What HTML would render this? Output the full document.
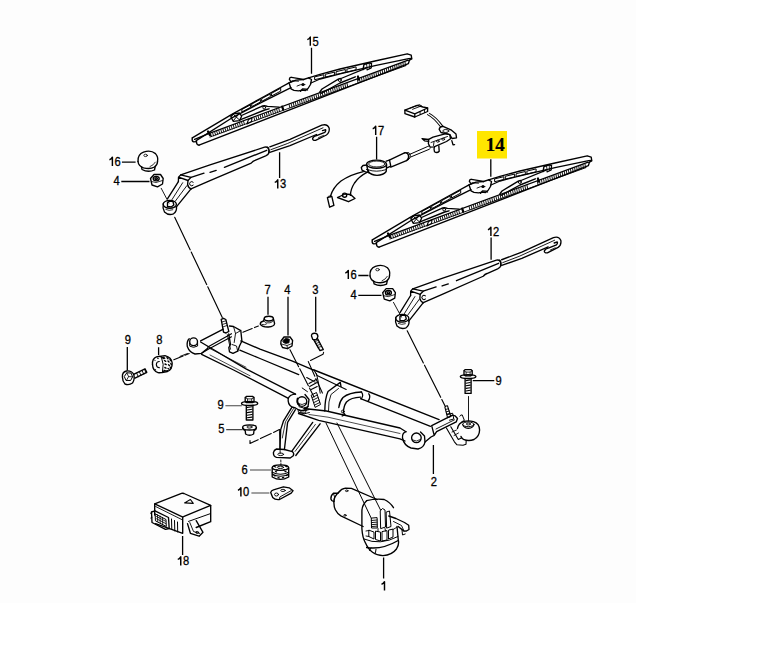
<!DOCTYPE html>
<html><head><meta charset="utf-8"><style>
html,body{margin:0;padding:0;background:#fff;}
body{width:776px;height:667px;overflow:hidden;font-family:"Liberation Sans",sans-serif;}
svg{display:block;}
</style></head><body>
<svg width="776" height="667" viewBox="0 0 776 667"><rect x="0" y="0" width="636" height="603" fill="#fdfdfd"/><defs><g id="blade" fill="none" stroke="#000" stroke-width="1.35" stroke-linejoin="round" stroke-linecap="round"><polyline points="192.3,137.9 231.4,114.6 265,96.0 289,82.8"/><polyline points="196.2,140.6 231.4,118.2 265,100.6 291,87.6"/><path stroke-width="1.0" d="M242.2,109.3L250.6,104.8L250.6,107.3L242.2,111.8ZM252.1,103.9L260.4,99.3L260.4,102.0L252.1,106.5ZM262.0,98.5L270.3,93.9L270.3,96.7L262.0,101.2ZM271.9,93.1L280.7,88.2L280.7,91.1L271.9,95.8Z"/><path d="M289,82.8 L291,82 L296,80.2 L303.5,79.5 L308.5,77.8 L311.5,79.5 L310.5,84.5 L308,88.5 L305.5,90.5 L302.5,90.2 L298.5,90.9 L294,90.3 L291,88.8 Z"/><path d="M291,82 L289.3,79.2 Q289.5,77.2 291.5,77.3 L299,78.6 L303.5,79.5"/><path d="M292,80.8 L298.5,81.2" stroke-width="0.9"/><path d="M300.5,91.3 L302.5,89 L306,89.2 L307.5,90"/><path d="M297,86 Q300,84 305,84.5" stroke-width="0.9"/><circle cx="303" cy="84.5" r="0.9"/><polyline points="308.5,77.8 320,74.3 340,69.0 375,61.0 407.2,53.8 411.2,55.2 411.8,58.8 409.4,60.2 407.5,60.3"/><polyline points="311,83 320,79.0 340,73.8 375,65.6 408.6,58.6 411.5,58.3"/><path stroke-width="1.0" d="M315.0,76.8L323.8,74.7L323.8,77.5L315.0,79.6ZM325.7,74.2L334.6,72.1L334.6,74.9L325.7,77.0ZM336.5,71.6L345.3,69.5L345.3,72.3L336.5,74.4ZM347.3,69.0L356.1,66.9L356.1,69.8L347.3,71.9Z"/><path d="M192.3,137.9 Q191.6,141.2 193.6,141.9 L196.6,141.6"/><path d="M196.4,141.7 Q196.6,145 199.0,145.2"/><polyline points="194.6,139.4 208.6,133.6 407.5,60.3"/><polyline points="199.0,145.2 408.4,63.6 409.4,60.2"/><path stroke-width="0.9" d="M210,137 L406,65.6"/><path stroke-width="2.2" d="M208,131.5 L210,135.2"/><path stroke-width="0.9" d="M210.5,133.6L211.5,136.6M212.6,132.9L213.6,135.9M214.7,132.1L215.7,135.1M216.7,131.3L217.7,134.3M218.8,130.6L219.8,133.6M220.9,129.8L221.8,132.8M222.9,129.0L223.9,132.1M225.0,128.3L226.0,131.3M227.1,127.5L228.0,130.6M229.2,126.8L230.1,129.8M231.2,126.0L232.2,129.0M233.3,125.2L234.2,128.3M235.4,124.5L236.3,127.5M237.4,123.7L238.4,126.8M239.5,122.9L240.4,126.0M241.6,122.2L242.5,125.3M243.6,121.4L244.5,124.5M254.0,117.6L254.9,120.7M256.0,116.8L256.9,119.9M258.1,116.1L259.0,119.2M260.2,115.3L261.0,118.4M262.2,114.5L263.1,117.7M264.3,113.8L265.2,116.9M266.4,113.0L267.2,116.2M268.4,112.2L269.3,115.4M270.5,111.5L271.4,114.6M272.6,110.7L273.4,113.9M274.7,110.0L275.5,113.1M276.7,109.2L277.6,112.4M278.8,108.4L279.6,111.6M289.1,104.6L289.9,107.8M291.2,103.9L292.0,107.1M293.3,103.1L294.1,106.3M295.3,102.3L296.1,105.5M297.4,101.6L298.2,104.8M299.5,100.8L300.2,104.0M301.5,100.0L302.3,103.3M303.6,99.3L304.4,102.5M305.7,98.5L306.4,101.8M307.8,97.8L308.5,101.0M309.8,97.0L310.6,100.2M311.9,96.2L312.6,99.5M314.0,95.5L314.7,98.7M316.0,94.7L316.8,98.0M318.1,93.9L318.8,97.2M320.2,93.2L320.9,96.5M322.2,92.4L322.9,95.7M324.3,91.6L325.0,94.9M326.4,90.9L327.1,94.2M328.4,90.1L329.1,93.4M330.5,89.4L331.2,92.7M332.6,88.6L333.3,91.9M334.6,87.8L335.3,91.1M336.7,87.1L337.4,90.4M338.8,86.3L339.4,89.6M340.8,85.5L341.5,88.9M342.9,84.8L343.6,88.1M345.0,84.0L345.6,87.4M347.0,83.2L347.7,86.6M357.4,79.4L358.0,82.8M359.5,78.7L360.1,82.1M361.5,77.9L362.1,81.3M363.6,77.1L364.2,80.5M365.7,76.4L366.3,79.8M367.7,75.6L368.3,79.0M369.8,74.9L370.4,78.3M371.9,74.1L372.5,77.5M373.9,73.3L374.5,76.7M376.0,72.6L376.6,76.0M378.1,71.8L378.6,75.2M380.1,71.0L380.7,74.5M382.2,70.3L382.8,73.7M384.3,69.5L384.8,73.0M386.4,68.8L386.9,72.2M388.4,68.0L389.0,71.4M390.5,67.2L391.0,70.7M392.6,66.5L393.1,69.9M394.6,65.7L395.2,69.2M396.7,64.9L397.2,68.4M398.8,64.2L399.3,67.7M400.8,63.4L401.3,66.9M402.9,62.6L403.4,66.1M405.0,61.9L405.5,65.4"/><path d="M230.8,116.8 L233.5,113.8 L239.5,113 L241.6,116.2 L239.6,120.6 L233.2,121.3 Z"/><path d="M233.5,114.5 L239.5,120 M239,113.8 L233.5,120.5" stroke-width="1"/><path d="M241.5,115.5 L261.1,106.6 Q264,104.9 267.4,106.4 L279.1,107.1"/><path d="M240,119.8 L264.7,110 L269,108.8"/><path d="M246.9,124 L248.5,119.5 L252,118 L251.5,121.5 Z" stroke-width="1.1"/><circle cx="264.2" cy="107.6" r="1.4" stroke-width="1"/><path stroke-width="2.2" d="M282.2,106.6 L283.2,109.6"/><path d="M319.7,92.2 L322,89 L338.3,79.1 L341,78.5 L366.1,68.2"/><path d="M321,93.5 L340,83 L355.3,76.8"/><circle cx="339.8" cy="80" r="1.5" stroke-width="1"/><path d="M363,69.5 L364,64.5 L369.5,62.8 L371.5,63.5 L371.2,68 L367,69.8"/><path d="M366.5,64 L367.2,69.2 M369.2,63.2 L369.6,68.6" stroke-width="0.8"/><path stroke-width="2.2" d="M357.9,76.5 L358.9,79.7"/></g><g id="arm" fill="none" stroke="#000" stroke-width="1.35" stroke-linejoin="round" stroke-linecap="round"><path d="M163.3,203.5 Q162.3,208 164.5,212 Q168.5,215.8 173.5,213.8 Q177,211.5 176.5,206.5"/><ellipse cx="169.8" cy="204.3" rx="6.6" ry="3.9"/><path d="M167.5,206.5 L167.5,202.5 L170,201 L173,201.5 L173.8,205 L171.5,206.8 Z"/><path d="M165.8,209.5 Q169,211.2 172.8,209.8" stroke-width="0.8"/><line x1="167.6" y1="198.6" x2="178.4" y2="181.6"/><line x1="176.2" y1="207.2" x2="191" y2="188.9"/><line x1="172" y1="199.6" x2="182.7" y2="182.7" stroke-width="0.9"/><line x1="175.2" y1="201.3" x2="186.9" y2="185.6" stroke-width="0.9"/><path d="M178.4,181.6 L178.5,177.2 L180.7,174.9 L191,177.4 L188,180.5 L178.5,177.2"/><path d="M188,180.5 L187.6,184.5 Q188.5,188.3 191.2,188.9"/><path d="M193.2,182.2 A2.1,2.1 0 1 0 193.2,185.2" stroke-width="1"/><path d="M180.7,174.9 L210,164.9 L264.6,147.2 Q266.5,146.6 267.9,147.6"/><path d="M191,177.4 L204,173.2"/><path d="M210,172.4 L216.2,170.4 M224.4,167.3 L266.7,150.3"/><path d="M191,188.9 L210,180.7 L251.2,163.1 Q253,161 255,160.4 L265.7,155.9 Q268.5,154.5 268.8,152.8"/><path d="M267.8,147.4 Q269.8,149.8 268.8,152.8" stroke-width="1.6"/><path d="M269.8,146.8 L290,139.4 L321.8,125.2 Q327.5,123.6 329.2,128.2 Q329.8,132.8 326.4,135 L315.6,140.4 Q312.3,140.6 312.6,138.4 Q313.4,136.3 317.2,135.4 L324.8,132.4 Q326.2,131 325.6,129.6 L322.5,130.6"/><path d="M269.8,152.4 L290,145.6 L316.5,134.5"/><path d="M270.8,149.7 L287.3,143.6 L323,127.8" stroke-width="0.9"/><path d="M318.5,137.6 L323.5,135.4" stroke-width="0.8"/><path d="M138,161.5 Q137.5,154.5 143.5,152.2 Q150.5,149.6 155.5,153.6 Q158.6,157 157.5,161.5"/><path d="M138,161.5 Q138.5,166 143.5,167.8 Q150,169.5 154.5,167 Q157.6,164.8 157.5,161.5"/><path d="M141.5,166.8 L142,169.5 Q148,172.8 154.5,170 L155.2,166.5"/><ellipse cx="145.6" cy="155.4" rx="1.8" ry="1.2" stroke-width="0.8"/><path d="M150,166.6 Q153.5,165.3 155.3,162.2" stroke-width="0.8"/><path d="M150.5,178.5 L154,174.5 L160.5,174.5 L163.2,178.5 L162.5,184 L157.5,186.8 L152,185 Z"/><ellipse cx="156.2" cy="178.6" rx="3" ry="2.2"/><ellipse cx="156.2" cy="178.6" rx="1.3" ry="0.9"/><path d="M151.5,181.5 L156,182.5 L162.5,180.5" stroke-width="0.8"/><path d="M161.2,188.3 L169,203.1" stroke-width="0.9"/></g></defs><use href="#blade"/><use href="#blade" transform="translate(180,102)"/><use href="#arm"/><use href="#arm" transform="translate(232.5,114) rotate(-0.6 169.6 208.3)"/><g fill="none" stroke="#000" stroke-width="1.35" stroke-linejoin="round" stroke-linecap="round"><ellipse cx="376.6" cy="164.2" rx="10" ry="4.1"/><ellipse cx="376.8" cy="164" rx="8.2" ry="2.9" stroke-width="0.8"/><path d="M366.8,165.5 L368,171.5 Q371,175.2 377,175.3 Q383.5,175 386.2,171.5 L386.6,165"/><path d="M368.2,169.8 Q376,172.8 386.3,169.6" stroke-width="0.9"/><path d="M366.8,165 L363,165.5 L361.3,167.5 L362,170.2 L365.5,171.8 L368.8,172.2"/><path d="M366.5,169.5 L368.5,170 L368.6,173" stroke-width="1"/><path d="M386.2,161.2 L389.5,160.2 L390.8,166.2 L387,167.8"/><path d="M389.3,160.1 L404.5,152.9 M390.8,167.2 L406.5,160.6"/><path d="M404.5,152.9 Q407.8,152.2 408.6,155.8 Q409,159.5 406.5,160.6"/><path d="M406.8,152.8 Q409.8,151.8 410.3,155.2 Q410.6,158.5 408.3,159.8" stroke-width="1"/><path d="M409.6,154.4 L427.2,146.7 L429.3,145.8 M410.7,157 L429.2,149.3 L430.2,148.4" stroke-width="1"/><path d="M428.7,139.3 L433,137.2 L446,133.6 L449.8,134.6 L450.5,138.8 L446.5,141.5 L434,146.8 L430.2,147.2 L428.4,143.8 Z"/><path d="M431,142.5 L447.5,136.5 M433.5,145.5 L434,142" stroke-width="0.9"/><ellipse cx="437.8" cy="141.2" rx="1.4" ry="1" stroke-width="0.9"/><ellipse cx="443.2" cy="139.2" rx="1.4" ry="1" stroke-width="0.9"/><path d="M428.7,139.5 L422,138.6 L424.5,140.8 L428.6,141.4"/><path d="M434.5,146.8 Q433.4,149.5 434.5,151.8 Q437.2,153.5 439.2,151.2 L438.8,145.8"/><path d="M451.8,140.6 L453,144.8 L454.6,144.6" stroke-width="1.3"/><path d="M439.2,129.3 Q439.5,126.5 443,126.3 L451.5,130.2 L456,134 L456.5,137.8 L452,138.5 L449.8,134.6 L441,132.5 Z"/><ellipse cx="445.8" cy="131" rx="3" ry="1.5" stroke-width="0.9"/><path d="M427.5,114.6 Q434,118 440.5,126.8 M429.4,113.4 Q436.2,117 443,126.4" stroke-width="1.05"/><path d="M404.9,110.1 L417.1,105.4 L423,107 L427.6,108 L427.6,111.5 L414.8,117 L404.9,113.6 Z"/><path d="M404.9,110.1 L414.8,113.8 L427.6,108 M414.8,113.8 L414.8,117"/><path d="M410,108.2 L419.5,104.6 L421.2,105.8 M412.5,109.3 L421.5,105.9" stroke-width="0.9"/><path d="M420,111.6 L420.2,114.5 M424.5,109.5 L424.6,112.6" stroke-width="0.9"/><path d="M363.3,171.6 Q350.5,174.5 341,181 Q332.8,187.5 330.3,196.6"/><path d="M367.4,172.2 Q359,176.5 354.5,183 Q350.6,189 350.4,195.4"/><path d="M327.4,197.6 L331.8,196.4 L333.9,205.3 L329.6,207.2 Z"/><path d="M327.4,197.6 L328.5,196.2 L331,195.8 L331.8,196.4" stroke-width="0.8"/><path d="M337.5,197.5 L345,194 L350.5,194.5 L355,198.5 L348.5,201.7 Z"/><circle cx="344.6" cy="195.2" r="2.1"/></g><g fill="none" stroke="#000" stroke-width="1.35" stroke-linejoin="round" stroke-linecap="round"><path d="M174.7,217.3 L222.3,317.5" stroke-dasharray="36,2.5" stroke-width="1.15"/><path d="M407.2,330.8 L445.3,406.5" stroke-dasharray="36,2.5" stroke-width="1.15"/><circle cx="193.6" cy="341.8" r="3.9"/><path d="M189.6,343 L189.8,346.2 Q193.5,348.5 197.6,346 L197.6,342.8" stroke-width="1"/><path d="M189.2,338.8 Q186.5,341.5 187.3,346.5 Q189.5,352.5 195,354 L201.6,353.3 L207.7,348.2"/><path d="M200.6,340.9 L223.3,329.1"/><path d="M207.8,347.1 L231.5,333.7 M201.6,353.3 L207.8,349.5 L231.5,336.8" stroke-width="1.1"/><path d="M221.2,319.3 L223.5,318.3 L225.8,319.5 L228.8,331.3 L226,333 L223.5,332.2 Z"/><path d="M222,322 L225.3,321 M222.6,324.4 L226,323.3 M223.3,326.8 L226.7,325.6" stroke-width="0.8"/><path d="M229.5,326 L233.5,326.5 L240.8,330.6 L241.9,341 L239.5,346 L237.7,351.2 L233,353.3 L229.5,351.8 L228.8,347.5 L230.5,344.5 L228.8,334"/><path d="M233.5,326.5 L235.5,333.5 L240.8,330.6 M235.5,333.5 L234.2,342.5 M227.4,334.7 L230.5,349.2" stroke-width="0.9"/><path d="M232,344.5 L236.5,346 L237.7,351.2" stroke-width="0.9"/><path d="M200.6,342 L246,368.8 L295.5,394.2"/><path d="M201.6,354.3 L233.6,370 L288.4,398.3"/><path d="M207.8,347.5 L246,367.2 M210,355 L250,375.8" stroke-width="0.7"/><path d="M240.8,340.9 L260,349.2 L292.5,361.2 L313,369.8"/><path d="M239.8,350.2 L260,358.5 L298.7,374.6"/><path d="M313,369.8 L314,370 L439.1,419.6"/><path d="M314,370 L317.1,375.5 L346.2,389.5" stroke-width="1.1"/><path d="M360.6,398.7 L430.5,426.3"/><path d="M361.2,391.8 Q364.2,395 361.2,399" stroke-width="1.2"/><path d="M368.8,393.8 Q371.2,397 367.9,401.3" stroke-width="1.3"/><path d="M361.6,392 Q349,392.5 343,397.5 Q339.5,401.5 338.8,407.5"/><path d="M360.6,397.2 Q351,397.5 346.5,402 Q343.6,406 343.4,412.5 L345,414.6 L342.2,416"/><path d="M324.8,411 Q325,398 328,391.5 L340.3,382.4 L341,386.5"/><path d="M328.5,411 Q328.2,401 331,394.5 L338.5,388.5" stroke-width="0.9"/><circle cx="342.8" cy="411.5" r="1.4" stroke-width="0.9"/><circle cx="302" cy="401.5" r="4.8"/><path d="M298,403.5 Q302,406 306.3,403" stroke-width="0.8"/><path d="M295.5,394.2 Q290,394.5 288.2,398.5 Q287.5,404.5 292,407 L295.5,408 L300.5,411 L304.5,410 L308,406.5 L309,399.5 L305,394.5"/><path d="M298,409.5 L298.5,412.5 L305,413 L307,409" stroke-width="0.9"/><path d="M299,406.8 Q303.5,409.3 308.2,406.8 M298.8,409.8 Q303.5,412.3 309.2,409.6 M299.6,412.8 Q304,415 309.4,412.6" stroke-width="1"/><path d="M297.6,398.5 Q296.6,402.5 299.3,405.2" stroke-width="1.8"/><path d="M311.5,395 L316.5,392.5 L320.5,404.5 L315.5,407.2 Z" stroke-width="1"/><path d="M312.3,397.5 L317.3,395 M313.1,400 L318.1,397.5 M314,402.5 L319,400 M314.8,405 L319.8,402.5" stroke-width="0.9"/><path d="M306.7,377.5 L315,382 M309,383.5 L315.7,379.7 M309.7,386.5 L316.5,382.7 M311.2,389.5 L317.2,386.5" stroke-width="1.1"/><path d="M302.2,388 L307.5,391.7 M316.5,373.7 L318.5,383 L320.2,393.2" stroke-width="1"/><path d="M304,408.5 L326.4,411 L400,428 L406,431.7"/><path d="M298.5,413.5 L318.7,420.3 L400,438.9 L405,441"/><path d="M309,414.5 L328,417.2 L400,433.5" stroke-width="0.7"/><circle cx="416.4" cy="437.8" r="4.8"/><path d="M412.5,440 Q416.5,442.5 420.5,439.5" stroke-width="0.8"/><path d="M406,431.7 Q402,433 402.5,438 Q404,445.5 411,448 L418,449 Q424,447.5 425,442 L424.5,436 L420.5,432"/><path d="M425,442 L431,437 L434.2,435.4 L436.6,431.7 L456.2,421.9 L457.5,418.5 L455,415.8 L452.5,415.2 L431.7,425.6 L434.2,435.4"/><path d="M436,429 L454.5,419.8" stroke-width="0.9"/><path d="M444.9,407.2 Q445.5,405.6 447.5,405.8 L450.8,416.5 L447.6,417.8 Z" stroke-width="1.1"/><path d="M445.6,409.5 L448.6,408.7 M446.3,411.8 L449.4,411 M447,414.1 L450.1,413.3" stroke-width="0.9"/><path d="M447.4,414.6 L452.6,413.2 L453.8,419 L449.5,420.2" stroke-width="1"/><path d="M446.4,428 L454.4,441.8 L457,444.8 L463,445.2 L466,444.3 L466.2,440.2 M450.8,426.8 L458.3,439.5 L461.3,438" stroke-width="1.1"/><path d="M452,432 L456.5,430 M454,435.5 L458.5,433" stroke-width="0.9"/><path d="M459.8,416.2 Q460.5,414.6 462.2,414.9 L464.4,420.4 L461.8,421.7" stroke-width="1"/><path d="M457.5,428.5 Q458.5,423 463.5,421.6 Q468.3,420.3 473.5,421.6 Q479.6,423.6 479.6,430 Q479.4,436.6 474,439.5 Q468.5,441.6 463.5,439.3 Q461.4,438.2 461,436.5"/><ellipse cx="468.3" cy="424.3" rx="5.6" ry="2.4" stroke-width="1"/><ellipse cx="468.4" cy="424" rx="2.1" ry="1" stroke-width="0.9"/><path d="M462.7,424.6 Q463.4,427.8 468.3,428.4 Q473.4,427.8 474,424.6" stroke-width="1.1"/><path d="M291.7,407.6 L283.4,421.2 L280.7,429.6 L279.9,449.2 M295.4,409.7 L287.6,422.3 L284.4,449.5"/><path d="M293.5,408.6 L285.5,421.8 L282.3,438" stroke-width="0.8"/><path d="M312.7,422.4 L291.7,451.4 M320.1,423.8 L295.8,455.5"/><path d="M315.4,424.4 L295.1,451.4" stroke-width="0.8"/><path d="M273.4,452.7 Q274,449.8 276.5,449 L284.4,449.5 L292.3,451.6 Q294.5,453.5 293.3,455.8 L290.2,458 L276.5,457.4 Q273.4,456.5 273.4,452.7 Z"/><ellipse cx="280.7" cy="454.3" rx="2.9" ry="1.3" stroke-width="0.9"/><path d="M279.4,429.6 L280.2,453.5" stroke-width="0.9"/><path d="M250,440.5 L250,443.5 L279.4,429.6" stroke-dasharray="12,2.5" stroke-width="1.1"/><path d="M280.8,460 L281,466" stroke-width="0.9" stroke-dasharray="2,1.5"/><path d="M326,423 L371.3,518.3 M337,423 L380.6,510.1" stroke-width="1"/><path d="M242.9,332.2 L258.4,326" stroke-dasharray="10,2.5" stroke-width="1.1"/><path d="M290,349.7 L314,396.9" stroke-dasharray="19,2.5" stroke-width="1.1"/><path d="M323.6,352.3 L323,354.3 L308.3,361.6 L322.4,393.1" stroke-dasharray="16,2.5" stroke-width="1.1"/><path d="M173.8,359.7 L189.2,353.6" stroke-dasharray="10,2" stroke-width="1.1"/><path d="M180,356.4 L187.5,353.5" stroke-width="0.9"/><path d="M468.5,396.5 L468.5,421" stroke-width="0.9"/></g><g fill="none" stroke="#000" stroke-width="1.35" stroke-linejoin="round" stroke-linecap="round"><path d="M122.4,377 Q122,372 126.5,371 Q131.5,370.5 133.8,374.5 Q135,379.5 132.5,383 Q129,385.5 125,384 Q122.5,381.5 122.4,377 Z"/><path d="M124.5,376.2 L126.8,372.8 L131,373 L132.6,376.8 L130.6,380.5 L126.4,380.4 Z" stroke-width="1"/><path d="M126.8,372.8 L128.6,376.6 L126.4,380.4 M128.6,376.6 L132.6,376.8" stroke-width="0.8"/><path d="M133.6,374.4 L145,368.8 L146.8,372.4 L135,378.2"/><path d="M136.6,373 L138.3,376.8 M139.3,371.7 L141,375.4 M142,370.4 L143.7,374.1 M144.5,369.3 L146,372.8" stroke-width="0.9"/><path d="M152.5,364.5 Q152,358.5 156.5,356.8 Q161,355.5 163.5,358.5"/><path d="M152.5,364.5 Q152.8,371 158,372.6 Q161.5,373.3 164,371.5"/><path d="M157.5,356.6 L165,355.6 Q171.5,357.2 172.2,363 Q172.3,369.5 167.5,371.5 L162,372.6"/><path d="M159.3,361.5 Q156.5,361.5 156.3,364.5 Q156.4,367.6 159.5,367.8" stroke-width="1.1"/><path d="M161.5,357.5 Q164.5,364 162.5,372" stroke-width="1"/><path d="M163.5,357.2 l1.2,1 M164.5,360.5 l1.2,0.8 M165,364 l1.2,0.6 M164.8,367.5 l1.2,0.6 M164,370.5 l1.2,0.3 M167,357.5 l1,1.2 M168,361 l1,1 M168.5,364.8 l1,0.8 M168,368.5 l1,0.6 M170,359.5 l0.8,1.2 M170.8,363.5 l0.6,1.2 M170.3,367.2 l0.6,1 M166.5,371 l1,-0.2" stroke-width="1.4"/><path d="M154.5,360 l0.6,0.6 M155,369.5 l0.8,0.4 M157.5,358.3 l0.8,0.2" stroke-width="1"/><ellipse cx="268.8" cy="318.6" rx="4.6" ry="2.4"/><path d="M264.3,318.8 L263.5,321 Q260,322 260.3,324.3 Q262.5,327.3 268.5,327 Q274.3,326.6 274.6,323.5 L273.4,318.6"/><path d="M263.5,321 Q266,324 270,322.8 Q273,322 273.6,320.5" stroke-width="0.8"/><path d="M262,324.5 Q264.5,325.5 266.5,324" stroke-width="0.8"/><path d="M281,341 L284,337 L290,336.8 L292.6,340.5 L292,346 L287.5,348.7 L282.5,347.5 L280.8,344 Z"/><path d="M283.2,340.2 L285.8,338.2 L289.4,339.2 L289,342.8 L285.5,343.6 L283.2,342.2 Z" fill="#000" stroke-width="0.8"/><path d="M281.3,344 L287,345.5 L292.2,343.5 M287,345.5 L287.5,348.7" stroke-width="0.8"/><path d="M311.5,336 Q311.2,333.2 314.5,333.2 Q317.8,333.4 317.9,336.4 Q317.5,338.8 315.8,339.8 L312.8,339.4 Z"/><path d="M313.6,339.6 L320,350.6 L323.3,349.5 L317.5,338.6"/><path d="M314.6,341.6 L318.3,340.4 M315.6,343.6 L319.3,342.4 M316.7,345.6 L320.4,344.4 M317.8,347.6 L321.5,346.4" stroke-width="0.8"/><path d="M245.2,397.6 L246.7,396.4 L252.5,396.4 L254.0,397.6 L254.0,401.6 L252.5,402.6 L246.7,402.6 L245.2,401.6 Z"/><path d="M245.2,397.6 L247.5,398.9 L251.7,398.9 L254.0,397.6 M247.5,398.9 L247.5,402.6 M251.7,398.9 L251.7,402.6" stroke-width="0.8"/><ellipse cx="249.6" cy="403.4" rx="8.1" ry="1.9"/><path d="M246.3,405.3 L246.3,420.0 L252.9,420.0 L252.9,405.3"/><path d="M247.2,407.4L252.0,406.7M247.2,410.0L252.0,409.3M247.2,412.6L252.0,411.9M247.2,415.2L252.0,414.5M247.2,417.8L252.0,417.1" stroke-width="1.1"/><ellipse cx="249.5" cy="427.4" rx="6.9" ry="2.6"/><ellipse cx="249.5" cy="427" rx="2.6" ry="1.1" stroke-width="0.9"/><path d="M242.6,427.6 Q243,430 245.2,430.6 L245.6,434 Q249.5,436.6 253.6,434 L254,430.6 Q256.2,430 256.4,427.6"/><ellipse cx="280.4" cy="467.6" rx="8.2" ry="2.8"/><ellipse cx="280.4" cy="467.3" rx="3.2" ry="1.2" stroke-width="1"/><path d="M272.2,468 L272.2,477 Q280.4,481.8 288.7,477 L288.7,468"/><path d="M272.2,472.2 Q280.4,476.2 288.7,472.2 M272.4,474.2 Q280.4,478.2 288.6,474.2" stroke-width="1.1"/><path d="M274.5,466.5 l1,0.5 M285.5,466 l1,0.6 M276.5,469.8 l1.2,0.3 M283.5,469.8 l1.2,-0.2 M274,475.5 l1,0.5 M278,477.6 l1.2,0.2 M282.5,477.6 l1.2,-0.2 M286.5,475.5 l1,-0.5 M275.5,471.5 l1,0.4 M285,471.6 l1,-0.3" stroke-width="1.3"/><path d="M270.7,492.6 Q271,490.5 273.5,489.8 L283.4,486.8 L289.2,487.8 L293.1,490.7 L291.2,493.1 L279.5,499.5 Q275,500 272.7,497.5 Z"/><ellipse cx="276.5" cy="494.5" rx="2" ry="1.5" stroke-width="0.9"/><ellipse cx="283" cy="490.4" rx="2.3" ry="1.1" stroke-width="0.9"/><path d="M279.5,499.5 L279.8,497 L291.2,490.6" stroke-width="0.9"/><path d="M464.0,370.8 L465.3,369.6 L470.9,369.6 L472.2,370.8 L472.2,374.8 L470.9,375.8 L465.3,375.8 L464.0,374.8 Z"/><path d="M464.0,370.8 L466.1,372.1 L470.1,372.1 L472.2,370.8 M466.1,372.1 L466.1,375.8 M470.1,372.1 L470.1,375.8" stroke-width="0.8"/><ellipse cx="468.1" cy="376.6" rx="7.8" ry="1.9"/><path d="M465.1,378.5 L465.1,393.4 L471.1,393.4 L471.1,378.5"/><path d="M466.0,380.6L470.2,379.9M466.0,383.2L470.2,382.5M466.0,385.8L470.2,385.1M466.0,388.4L470.2,387.7M466.0,391.0L470.2,390.3" stroke-width="1.1"/></g><g fill="none" stroke="#000" stroke-width="1.35" stroke-linejoin="round" stroke-linecap="round"><path d="M154.7,503.8 L181.5,493.4 Q182.7,493 184,493.5 L210.7,505.3 L183.5,516.7 Q182.7,517 181.8,516.6 Z"/><path d="M154.7,503.8 L154.7,515 M155.6,523.6 L182.7,533.3 L182.7,516.9 M210.7,505.3 L210.7,521.7 L196.2,527.5"/><path d="M155.6,506.5 L182.3,519.8" stroke-width="0.9"/><path d="M188.5,521.4 L210.5,513.6" stroke-width="1"/><path d="M184.6,502.9 L190.4,499.5 L193.3,503.4 Z" stroke-width="1.1"/><path d="M151.5,512 L155,510.8 L168.5,517.5 L169.2,528.5 L165.5,529.4 L152,522.5 Z"/><path d="M155.5,514 L166,519.5 L166.3,526.5 L155.8,521 Z" stroke-width="1"/><path d="M156.5,516.5 L165.5,521.2 M156.6,518.8 L165.6,523.5 M157.5,514.8 L157.7,521.5 M160,516 L160.2,522.8 M162.5,517.4 L162.7,524.2" stroke-width="0.8"/><path d="M150.8,513.5 L151.5,512 M150.8,518 L152,517.5" stroke-width="1"/><path d="M171.5,519 L171.8,529.5 M174.5,520.5 L174.8,531 M177.5,522 L177.7,532" stroke-width="1"/><path d="M187.5,523.6 L190.4,533.3 L199.1,536.2 L203,532.3 L196.2,520.7"/><path d="M189.8,522.5 L193.5,531.5 L199.5,533.5" stroke-width="0.9"/><ellipse cx="197.2" cy="532.4" rx="1.5" ry="1" stroke-width="0.9"/></g><g fill="none" stroke="#000" stroke-width="1.35" stroke-linejoin="round" stroke-linecap="round"><path d="M338.5,492.5 Q341.5,488.6 345.5,488.2 L351.4,488.4 L377.1,499.5"/><path d="M338.5,492.5 Q334,496.5 333.8,501.9 Q334,507.5 335.5,510 Q337.5,514 340.9,515.9 L363.1,526.5"/><path d="M338,493.2 L333.5,493.2 Q330.6,495.5 330.9,499 Q331.5,501.3 334,501.6"/><path d="M333.5,493.2 Q335.6,496.5 334,501.6" stroke-width="0.9"/><ellipse cx="346.7" cy="490.8" rx="1.3" ry="0.8" stroke-width="0.9"/><ellipse cx="345" cy="515.3" rx="1.2" ry="0.8" stroke-width="0.9"/><path d="M366.6,500.7 Q362,505 361.9,511.2 L361.9,528.8 Q362.5,538 365.4,542.8 Q368,549 372.5,552.2 Q377,555.5 383,555.7 Q392,555 396.5,549 Q399.5,544.5 398.2,539.3 L397,526.5"/><path d="M366.6,500.7 Q375,498.5 384.2,499.5 Q390,502 393.5,507.7"/><path d="M366.6,547.5 Q382,550 398.2,540.5"/><path d="M364,539 Q380,546 398,536.5" stroke-width="1"/><path d="M369.5,550.5 L371,547.8 M375.5,552.5 L376,549.3" stroke-width="1"/><path d="M388.8,516 L396,518.5 L404.5,522.5 L408.7,525.3 L409,529.5 L406.5,531 L404,531.1 L398.2,526.5"/><path d="M393.5,521.5 L401.5,525.5 L404,531" stroke-width="0.9"/><path d="M402,530 L402.5,535 L405.2,534" stroke-width="1"/><path d="M371.3,518.5 L371.5,528 L377.3,528 L377.1,518 Z" stroke-width="1"/><path d="M371.3,520.5 L377.1,520 M371.4,522.6 L377.2,522.1 M371.4,524.7 L377.2,524.2 M371.5,526.6 L377.3,526.1" stroke-width="0.9"/><path d="M380.5,510.5 L382.5,508.5 L385,510 L385.5,527 L381,528.5 Z" stroke-width="1"/><path d="M386.5,512 L389.5,511 L391,526.5 L387,528 Z" stroke-width="1"/><path d="M368.8,530.5 L368.8,536.5 L374,539 L374,532.5 Z M375.5,531.5 L375.5,539.5 L380.5,541 L380.5,532.5 Z M382,532 L382,541 L387,540 L387,531 Z M388.5,530.5 L388.5,539 L393,537 L393,529.5 Z" stroke-width="1"/><path d="M366,531 L368.8,530.5 M393,529.5 L396.5,527.5 M366,536 L368.8,536.5" stroke-width="0.9"/><path d="M378,528.5 L378,531 M385,528.5 L385.5,531" stroke-width="0.9"/></g><g font-family="Liberation Sans, sans-serif" font-size="12" text-anchor="middle" fill="#000" stroke="#000" stroke-width="0.3"><text x="315.60" y="45.70" transform="translate(315.60 0) scale(0.93 1) translate(-315.60 0)">5</text><text x="381.00" y="134.90" transform="translate(381.00 0) scale(0.93 1) translate(-381.00 0)">7</text><text x="117.70" y="165.90" transform="translate(117.70 0) scale(0.93 1) translate(-117.70 0)">6</text><text x="116.55" y="184.70" transform="translate(116.55 0) scale(0.93 1) translate(-116.55 0)">4</text><text x="283.05" y="188.50" transform="translate(283.05 0) scale(0.93 1) translate(-283.05 0)">3</text><text x="496.20" y="235.90" transform="translate(496.20 0) scale(0.93 1) translate(-496.20 0)">2</text><text x="353.60" y="279.10" transform="translate(353.60 0) scale(0.93 1) translate(-353.60 0)">6</text><text x="353.50" y="298.90" transform="translate(353.50 0) scale(0.93 1) translate(-353.50 0)">4</text><text x="267.50" y="293.70" transform="translate(267.50 0) scale(0.93 1) translate(-267.50 0)">7</text><text x="287.25" y="293.70" transform="translate(287.25 0) scale(0.93 1) translate(-287.25 0)">4</text><text x="315.45" y="294.30" transform="translate(315.45 0) scale(0.93 1) translate(-315.45 0)">3</text><text x="127.85" y="344.00" transform="translate(127.85 0) scale(0.93 1) translate(-127.85 0)">9</text><text x="159.40" y="344.40" transform="translate(159.40 0) scale(0.93 1) translate(-159.40 0)">8</text><text x="220.65" y="409.00" transform="translate(220.65 0) scale(0.93 1) translate(-220.65 0)">9</text><text x="498.55" y="384.80" transform="translate(498.55 0) scale(0.93 1) translate(-498.55 0)">9</text><text x="221.45" y="433.40" transform="translate(221.45 0) scale(0.93 1) translate(-221.45 0)">5</text><text x="244.65" y="474.30" transform="translate(244.65 0) scale(0.93 1) translate(-244.65 0)">6</text><text x="246.20" y="496.40" transform="translate(246.20 0) scale(0.93 1) translate(-246.20 0)">0</text><text x="433.90" y="486.20" transform="translate(433.90 0) scale(0.93 1) translate(-433.90 0)">2</text><text x="186.05" y="565.50" transform="translate(186.05 0) scale(0.93 1) translate(-186.05 0)">8</text></g><path fill="none" stroke="#000" stroke-width="1.45" stroke-linejoin="round" d="M310.30,45.70L310.30,37.00Q309.10,39.20 307.30,39.60M375.70,134.90L375.70,126.20Q374.50,128.40 372.70,128.80M112.40,165.90L112.40,157.20Q111.20,159.40 109.40,159.80M277.75,188.50L277.75,179.80Q276.55,182.00 274.75,182.40M490.90,235.90L490.90,227.20Q489.70,229.40 487.90,229.80M348.30,279.10L348.30,270.40Q347.10,272.60 345.30,273.00M240.90,496.40L240.90,487.70Q239.70,489.90 237.90,490.30M180.75,565.50L180.75,556.80Q179.55,559.00 177.75,559.40M384.50,590.40L384.50,581.70Q383.30,583.90 381.50,584.30"/><path fill="none" stroke="#000" stroke-width="1.3" d="M311.5,47.8L311.5,73.7M376.6,136.7L376.6,159.5M121.9,162.2L135.6,162.2M121.3,181.5L149.5,181.5M279.6,152.3L279.6,178M491.1,237.4L491.1,259.8M358.3,275.5L368.5,275.5M358.3,295.3L381.5,295.3M268,296.7L268,314.8M288,296.7L288,335.5M315.7,296.7L315.7,331.8M127.3,347.1L127.3,370.5M158.6,347.3L158.6,355M472.8,380.7L494.3,380.7M433.4,444.9L433.4,474M182.6,536L182.6,555M383.6,557.6L383.6,578.6M490.8,159.3L490.8,176.7"/><path fill="none" stroke="#444" stroke-width="1.15" d="M225.4,405.7L241.9,405.7M226.2,429.6L242.7,429.6M250,470L271,470M251.4,493L269.4,493"/><rect x="477" y="131" width="30" height="27.5" fill="#ffe600"/><text x="0" y="0" transform="translate(495.3 151.1) scale(1.04 1)" font-family="Liberation Serif, serif" font-weight="bold" font-size="18.2" text-anchor="middle" fill="#000" stroke="#000" stroke-width="0.2">14</text></svg>
</body></html>
